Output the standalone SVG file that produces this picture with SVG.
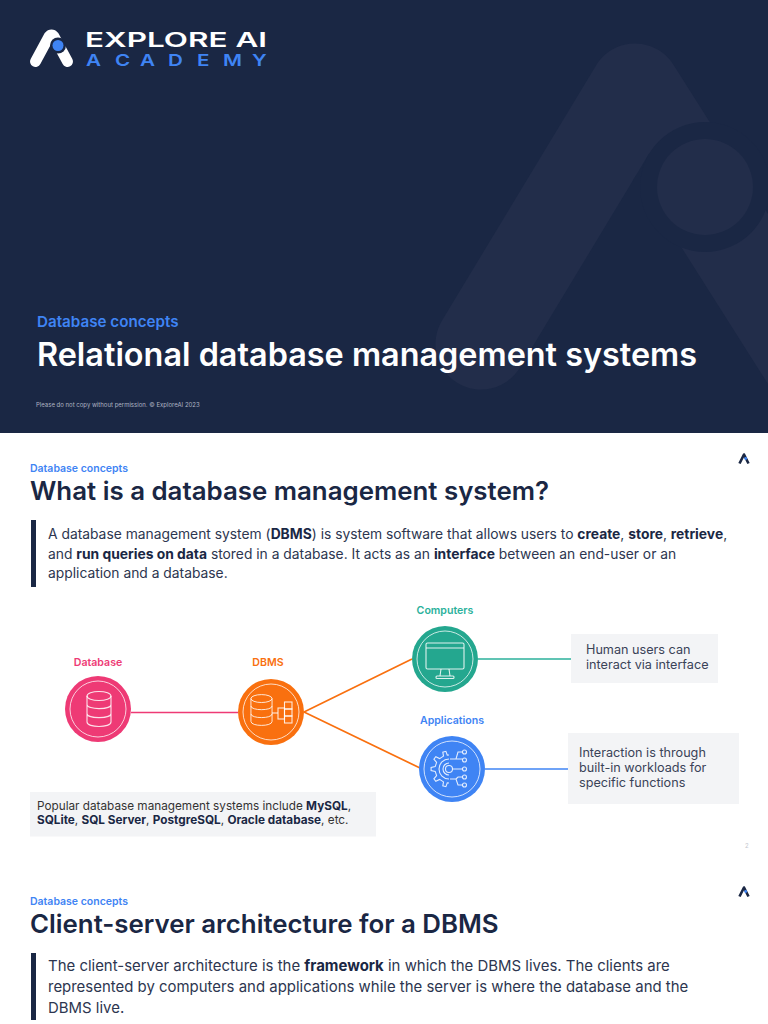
<svg xmlns="http://www.w3.org/2000/svg" width="768" height="1024" viewBox="0 0 768 1024">
<style>
text{font-family:Inter,"Liberation Sans",sans-serif}
.kick{fill:#3F84F4;font-weight:600}
.h{fill:#1A2744;font-weight:600;font-size:25.850px}
.b{fill:#2D3650;font-size:13.840px}
.b3{font-size:14.940px}
.b tspan.s,.p tspan.s{font-weight:700;fill:#1A2744}
.p{fill:#333;font-size:11.750px}
.box{fill:#F3F4F6}
.bt{fill:#3A4358;font-size:12.650px}
.lab{font-size:10.600px;font-weight:600;text-anchor:middle}
.ring{fill:none;stroke:#fff;stroke-opacity:.75;stroke-width:1}
.ic{fill:none;stroke:#fff;stroke-opacity:.85;stroke-width:1.100}
.con{fill:none;stroke-width:1.700}
</style>
<defs>
<clipPath id="bn"><rect width="768" height="433"/></clipPath>
<g id="mini"><path d="M1.500 10.500L6 1.500L10.500 10.500" fill="none" stroke="#1A2744" stroke-width="2.600" stroke-linejoin="round"/><circle cx="7.700" cy="5.500" r="1.400" fill="#3F84F4"/></g>
<g id="db"><ellipse cx="0" cy="-13" rx="12" ry="4.500"/><path d="M-12 -13V13C-12 19 12 19 12 13V-13M-12 -4.500C-12 1 12 1 12 -4.500M-12 4.500C-12 10 12 10 12 4.500"/></g>
</defs>

<g id="banner">
<rect width="768" height="433" fill="#1A2744"/>
<g clip-path="url(#bn)">
<path d="M481 344L635 89L806 359" fill="none" stroke="#222D4A" stroke-width="91" stroke-linecap="round" stroke-linejoin="round"/>
<path d="M649 153.500L632.600 181L690 220L700 160Z" fill="#1A2744"/>
<circle cx="705" cy="187" r="65" fill="#1A2744"/>
<circle cx="705" cy="187" r="48" fill="#222D4A"/>
</g>
<g id="logo">
<path d="M35.500 61.500L49 36.500Q51.500 33.500 54 36.500L67.500 61.500" fill="none" stroke="#fff" stroke-width="11" stroke-linecap="round" stroke-linejoin="round"/>
<circle cx="58" cy="45.500" r="8" fill="#1A2744"/>
<circle cx="58" cy="45.500" r="5.500" fill="#3F84F4"/>
<text x="85" y="47" font-size="20" font-weight="600" fill="#fff" textLength="182" lengthAdjust="spacingAndGlyphs">EXPLORE AI</text>
<text transform="scale(1.25 1)" x="68.800 92 112 134.400 157.600 178.400 201.600" y="66" font-size="16.500" font-weight="600" fill="#3F84F4">ACADEMY</text>
</g>
<text class="kick" x="37" y="327" font-size="15.200">Database concepts</text>
<text x="37" y="366" font-size="32.400" font-weight="600" fill="#fff">Relational database management systems</text>
<text x="36" y="407" font-size="6" fill="#AEB4C2">Please do not copy without permission. © ExploreAI 2023</text>
</g>

<g id="slide2-head">
<text class="kick" x="30" y="472" font-size="10.500">Database concepts</text>
<text class="h" x="30" y="500">What is a database management system?</text>
<use href="#mini" x="738" y="453"/>
<rect x="31" y="520" width="5" height="67" fill="#1A2744"/>
<text class="b" x="48" y="539">A database management system (<tspan class="s">DBMS</tspan>) is system software that allows users to <tspan class="s">create</tspan>, <tspan class="s">store</tspan>, <tspan class="s">retrieve</tspan>,</text>
<text class="b" x="48" y="559">and <tspan class="s">run queries on data</tspan> stored in a database. It acts as an <tspan class="s">interface</tspan> between an end-user or an</text>
<text class="b" x="48" y="578">application and a database.</text>
</g>

<g id="connectors">
<path class="con" stroke="#EE3A75" d="M131 712.500H238"/>
<path class="con" stroke="#F9700F" d="M304 712L412 659M304 712L420 768"/>
<path class="con" stroke="#2BB19B" d="M478 659H571"/>
<path class="con" stroke="#3F84F4" d="M485 769H568"/>
</g>

<g id="node-database">
<text class="lab" x="98" y="666" fill="#EE3A75">Database</text>
<circle cx="98" cy="709" r="33" fill="#EE3A75"/>
<circle class="ring" cx="98" cy="709" r="28"/>
<use href="#db" x="99" y="709" class="ic"/>
</g>
<g id="node-dbms">
<text class="lab" x="268" y="666" fill="#F9700F">DBMS</text>
<circle cx="271" cy="712" r="33" fill="#F9700F"/>
<circle class="ring" cx="271" cy="712" r="28"/>
<use href="#db" transform="translate(261.500 710) scale(.88)" class="ic"/>
<g class="ic"><path d="M272 713H278"/><rect x="278" y="708" width="6.500" height="11"/><rect x="284.500" y="702" width="7.500" height="7"/><rect x="284.500" y="709" width="7.500" height="7"/><rect x="284.500" y="716" width="7.500" height="7"/></g>
</g>
<g id="node-computers">
<text class="lab" x="445" y="614" fill="#2BB19B">Computers</text>
<circle cx="445" cy="659" r="33" fill="#24A78F"/>
<circle class="ring" cx="445" cy="659" r="28"/>
<g class="ic"><rect x="426" y="643" width="38" height="26" rx="1.500"/><path d="M426 648H464M441 669L440 676M449 669L450 676"/><rect x="436" y="676" width="18" height="2.500" rx="1"/></g>
</g>
<g id="node-applications">
<text class="lab" x="452" y="724" fill="#3F84F4">Applications</text>
<circle cx="452" cy="769" r="33" fill="#3F84F4"/>
<circle class="ring" cx="452" cy="769" r="28"/>
<g class="ic">
<path d="M449 755L447.300 755.100L445.900 751.300L442.800 752.100L443.500 756.100L439.600 758.600L435.800 756.700L433.900 759.200L436.600 762.400L435.200 766.600L431.100 767.400V770.600L435.200 771.400L436.600 775.600L433.900 778.800L435.800 781.300L439.600 779.400L443.500 781.900L442.800 785.900L445.900 786.700L447.300 782.900L449 783"/>
<path d="M449 759A10 10 0 0 0 449 779M449 763A6 6 0 0 0 449 775"/>
<circle cx="449" cy="769" r="3.500"/>
<path d="M452.500 769H462.500M450 759H456L458 752H462.500M456 759H462.500M450 779H456L458 785H462.500M456 779L458 777H462.500"/>
<circle cx="464.500" cy="752" r="2"/><circle cx="464.500" cy="760" r="2"/><circle cx="464.500" cy="769" r="2"/><circle cx="464.500" cy="777" r="2"/><circle cx="464.500" cy="785" r="2"/>
</g>
</g>

<g id="note-human">
<rect class="box" x="571" y="634" width="147" height="49"/>
<text class="bt" x="586" y="654">Human users can</text>
<text class="bt" x="586" y="669">interact via interface</text>
</g>
<g id="note-interaction">
<rect class="box" x="568" y="733" width="171" height="71"/>
<text class="bt" x="579" y="757">Interaction is through</text>
<text class="bt" x="579" y="772">built-in workloads for</text>
<text class="bt" x="579" y="787">specific functions</text>
</g>
<g id="note-popular">
<rect class="box" x="30" y="792" width="346" height="44.500"/>
<text class="p" x="37" y="810">Popular database management systems include <tspan class="s">MySQL</tspan>,</text>
<text class="p" x="37" y="824"><tspan class="s">SQLite</tspan>, <tspan class="s">SQL Server</tspan>, <tspan class="s">PostgreSQL</tspan>, <tspan class="s">Oracle database</tspan>, etc.</text>
</g>
<text x="745" y="848" font-size="6" fill="#C4C7CE">2</text>

<g id="slide3-head">
<text class="kick" x="30" y="905" font-size="10.500">Database concepts</text>
<text class="h" x="30" y="933">Client-server architecture for a DBMS</text>
<use href="#mini" x="738" y="886"/>
<rect x="31" y="953" width="5" height="67" fill="#1A2744"/>
<text class="b b3" x="48" y="971">The client-server architecture is the <tspan class="s">framework</tspan> in which the DBMS lives. The clients are</text>
<text class="b b3" x="48" y="992">represented by computers and applications while the server is where the database and the</text>
<text class="b b3" x="48" y="1013">DBMS live.</text>
</g>
</svg>
